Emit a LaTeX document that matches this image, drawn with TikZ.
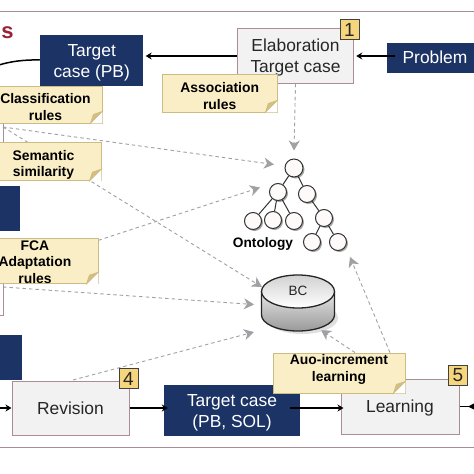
\documentclass[tikz,border=0pt]{standalone}
\usepackage{fontspec}
\setmainfont{Liberation Sans}
\usetikzlibrary{arrows.meta,calc,shadows,backgrounds}
\definecolor{navy}{RGB}{27,51,101}
\definecolor{edgepink}{RGB}{170,142,148}
\definecolor{notefill}{RGB}{250,238,198}
\definecolor{noteline}{RGB}{205,188,130}
\definecolor{foldtan}{RGB}{214,190,130}
\definecolor{badgefill}{RGB}{246,214,125}
\definecolor{dashgray}{RGB}{160,160,165}
\tikzset{
	navybox/.style={fill=navy,text=white,align=center,inner sep=0pt,font={\fontsize{17.4}{21}\selectfont}},
	stepbox/.style={draw=edgepink,line width=1pt,fill=black!5,text=black!85,align=center,inner sep=0pt,font={\fontsize{17.4}{21}\selectfont}},
	badge/.style={draw=black!75,line width=0.8pt,fill=badgefill,text=black!85,minimum width=19pt,minimum height=20pt,inner sep=0pt,font={\fontsize{19}{20}\selectfont}},
	notebox/.style={draw=noteline,line width=0.8pt,fill=notefill,align=center,inner sep=0pt,text=black,font={\bfseries\fontsize{13.9}{16.5}\selectfont}},
	flow/.style={line width=1.5pt,-{Stealth[length=6pt,width=7pt]}},
	kb/.style={dashed,dash pattern=on 3.5pt off 3pt,color=dashgray,line width=0.9pt,-{Stealth[length=10pt,width=11pt,inset=3pt]}},
	onto/.style={circle,draw=black!80,line width=1pt,fill=white!92!pink,minimum size=17pt,inner sep=0pt,drop shadow={shadow xshift=1.5pt,shadow yshift=-1.5pt,fill=black,opacity=0.35}},
}
\newcommand{\notefold}[1]{
	\fill[white] (#1.south east) -- ++(-12,0) -- ++(12,-12) -- cycle;
	\draw[draw=noteline,fill=foldtan,line width=0.6pt] ($(#1.south east)+(-12,0)$) -- ($(#1.south east)+(0,-12)$) -- ($(#1.south east)+(-9,-9)$) -- cycle;
}
\newcommand{\lowertext}[1]{\rule{0pt}{#1}}
\begin{document}
\begin{tikzpicture}[x=1pt,y=-1pt]
	\useasboundingbox (0,0) rectangle (474,474);
	\clip (0,0) rectangle (474,474);
	\draw[edgepink,line width=0.8pt] (0,11) -- (474,11);
	\draw[edgepink,line width=0.8pt] (0,447) -- (474,447);
	\draw[edgepink,line width=0.8pt] (3,123) -- (3,142);
	\draw[edgepink,line width=0.8pt] (3,283) -- (3,315) -- (0,315);
	\node[text={rgb,255:red,150;green,35;blue,55},font={\bfseries\fontsize{22}{22}\selectfont}] (title) at (7.5,33) {s};

	\node[navybox,minimum width=103.5pt,minimum height=51pt] (tgt) at (91.7,60) {\lowertext{17pt}Target\\case (PB)};
	\node[stepbox,minimum width=116.5pt,minimum height=54.5pt] (elab) at (295.5,56) {\lowertext{16.5pt}Elaboration\\Target case};
	\node[navybox,minimum width=96pt,minimum height=30pt] (prob) at (435,57.5) {Problem};
	\node[navybox,minimum width=30pt,minimum height=45pt] (navyA) at (5,208.5) {};
	\node[navybox,minimum width=32pt,minimum height=45pt] (navyB) at (6,357.5) {};
	\node[stepbox,minimum width=117pt,minimum height=54pt] (rev) at (70.5,408) {Revision};
	\node[navybox,minimum width=136pt,minimum height=51pt] (tcs) at (232,410.5) {\lowertext{16.5pt}Target case\\(PB, SOL)};
	\node[stepbox,minimum width=118pt,minimum height=55pt] (lrn) at (400,406.5) {\lowertext{16pt}Learning};

	\node[badge] (badgeA) at (349.5,29.5) {1};
	\node[badge] (badgeB) at (128.5,378.5) {4};
	\node[badge] (badgeC) at (458,375.5) {5};

	%ontology
	\node[onto,minimum size=18pt] (ont0) at (294,168) {};
	\foreach \n/\x/\y in {1/278/192,2/307/194,3/253/221,4/273/220,5/294/221,6/324/218,7/312/242,8/338/242}
		\node[onto] (ont\n) at (\x,\y) {};
	\begin{scope}[on background layer]
		\foreach \a/\b in {0/1,0/2,1/3,1/4,1/5,2/6,6/7,6/8}
			\draw[black!80,line width=1pt] (ont\a) -- (ont\b);
	\end{scope}
	\node[font={\bfseries\fontsize{13.7}{16}\selectfont}] (ontlabel) at (263,244) {Ontology};

	%base de cas
	\fill[black!25,opacity=0.5] (302,318) ellipse (36 and 16);
	\draw[line width=1.3pt,black!85,top color=black!10,bottom color=black!40] (261.5,292) -- (261.5,315) arc (180:0:36.5 and 16) -- (334.5,292) -- cycle;
	\draw[line width=1.3pt,black!85,top color=black!18,bottom color=white] (298,291.5) ellipse (36.5 and 16.5);
	\node[text=black!85,font={\fontsize{13.5}{15}\selectfont}] (bc) at (298,291) {BC};

	\node[notebox,minimum width=114.5pt,minimum height=38pt] (assoc) at (219.7,93) {\lowertext{16pt}Association\\rules};
	\node[notebox,minimum width=113pt,minimum height=37pt] (classif) at (45.5,104.5) {\lowertext{15pt}Classification\\rules};
	\node[notebox,minimum width=115pt,minimum height=38.5pt] (semsim) at (43.5,161.5) {\lowertext{17pt}Semantic\\similarity};
	\node[notebox,minimum width=126pt,minimum height=45.5pt] (fca) at (35,261) {\lowertext{12pt}FCA\\Adaptation\\rules};
	\node[notebox,minimum width=132pt,minimum height=40pt] (auto) at (339,373) {Auo-increment\\learning\rule[-10pt]{0pt}{10pt}};
	\foreach \n in {assoc,classif,semsim,fca,auto}{
		\notefold{\n}
	}

	\draw[flow] ([xshift=8pt]prob.west |- elab.east) -- ([xshift=2pt]elab.east);
	\draw[flow] (elab.west) -- ([xshift=2pt]elab.west -| tgt.east);
	\coordinate (lft) at (-1,65);
	\draw[line width=1.5pt] (tgt.west) .. controls (25,59.5) and (10,61.5) .. (lft);
	\coordinate (rin) at (0,408);
	\draw[flow] (rin) -- (rev.west);
	\draw[flow] (rev.east) -- ([xshift=4pt]rev.east -| tcs.west);
	\coordinate (tcsout) at (290,408);
	\draw[flow] (tcsout) -- ([xshift=3pt]lrn.west |- tcsout);
	\coordinate (rout) at (477,406.5);
	\draw[line width=1.5pt,-{Stealth[reversed,length=9pt,width=9pt]}] (lrn.east) -- (rout);

	\begin{scope}[on background layer]
		\coordinate (kbA) at (3,127);
		\coordinate (kbB) at (3,287);
		\coordinate (kbC) at (73,380);
		\coordinate (ontA) at (274,164.5);
		\coordinate (ontB) at (260,187.5);
		\coordinate (ontC) at (350,257);
		\coordinate (bcA) at (262,287);
		\coordinate (bcB) at (254,304.5);
		\coordinate (bcC) at (254,332);
		\coordinate (bcD) at (321,330);
		\draw[kb] (elab.south) -- ([yshift=8pt]ont0.north);
		\draw[kb] (kbA) -- (ontA);
		\draw[kb] (kbA) -- (bcA);
		\draw[kb] (fca) -- (ontB);
		\draw[kb] (kbB) -- (bcB);
		\draw[kb] (kbC) -- (bcC);
		\draw[kb] ($(auto.north)+(16,0)$) -- (bcD);
		\draw[kb] ($(auto.north)+(51,0)$) -- (ontC);
	\end{scope}
\end{tikzpicture}
\end{document}
